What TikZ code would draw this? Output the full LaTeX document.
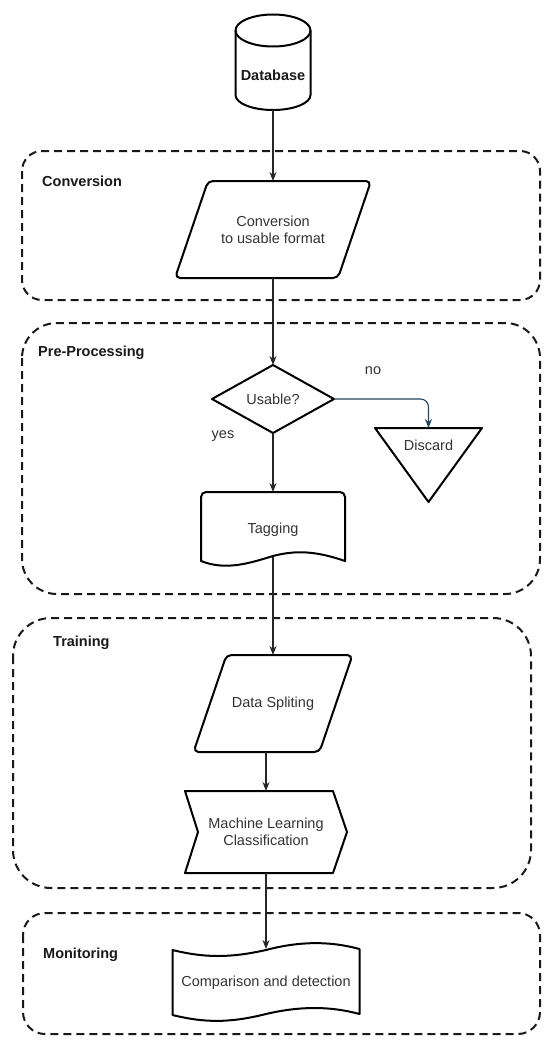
\documentclass[tikz,border=0pt]{standalone}
\usepackage{fontspec}
\setmainfont{Liberation Sans}
\usetikzlibrary{arrows.meta,calc}
\definecolor{txt}{HTML}{333333}
\definecolor{noblue}{HTML}{23445D}
\begin{document}
\begin{tikzpicture}[x=1pt,y=-1pt,
  box/.style={inner sep=0pt, outer sep=0pt, align=center, text=txt, font=\fontsize{14.5}{17}\selectfont},
  shapeline/.style={line width=2pt, draw=black, line join=round},
  group/.style={line width=2pt, draw=black!90, dash pattern=on 8pt off 5pt, rounded corners=#1},
  grouplabel/.style={anchor=west, inner sep=0pt, text=black!90, font=\fontsize{14.5}{17}\selectfont\bfseries},
  conn/.style={line width=1.1pt, draw=black!85, -{Stealth[length=9pt,width=7pt]}}
]
\useasboundingbox (0,0) rectangle (550,1046);

% groups
\draw[group=20] (22,151) rectangle (540,300);
\draw[group=35] (22,323) rectangle (540,594);
\draw[group=38] (13,618) rectangle (531,888);
\draw[group=22] (23,913) rectangle (540,1034);

\node[grouplabel] (lconv) at (42,181) {Conversion};
\node[grouplabel] (lpre) at (38,353) {Pre-Processing};
\node[grouplabel] (ltrain) at (53,643) {Training};
\node[grouplabel] (lmon) at (43,955) {Monitoring};

% database
\node[box, minimum width=75pt, minimum height=96pt] (db) at (273,62) {};
\draw[shapeline] (273,30.5) ellipse [x radius=37.5, y radius=16];
\draw[shapeline] (235.5,30.5) -- (235.5,95) arc[start angle=180, end angle=0, x radius=37.5, y radius=15] -- (310.5,30.5);
\node[box, font=\fontsize{14.5}{17}\selectfont\bfseries, text=black!90] (dbtxt) at ($(db.center)+(0,13)$) {Database};

% conversion
\node[box, minimum width=196pt, minimum height=97pt] (conv) at (273,229.5) {Conversion\\to usable format};
\draw[shapeline, rounded corners=5pt] (208,181) -- (371,181) -- (338,278) -- (175,278) -- cycle;

% usable?
\node[box, minimum width=122pt, minimum height=68pt] (dia) at (273,399) {Usable?};
\draw[shapeline] (dia.north) -- (dia.east) -- (dia.south) -- (dia.west) -- cycle;

% discard
\node[box, minimum width=107pt, minimum height=74pt] (disc) at (428.5,465) {};
\draw[shapeline] (disc.north west) -- (disc.north east) -- (disc.south) -- cycle;
\node[box] (disctxt) at ($(disc.north)+(0,17)$) {Discard};

% tagging
\node[box, minimum width=144pt, minimum height=69pt] (tag) at (273,526.5) {};
\node[box] (tagtxt) at ($(tag.center)+(0,3.5)$) {Tagging};
\draw[shapeline] (201,561) -- (201,497) arc[start angle=180, end angle=270, radius=5] -- (340,492) arc[start angle=270, end angle=360, radius=5] -- (345,561)
  .. controls (316,551) and (296,550) .. (273,556) .. controls (250,563) and (226,571) .. (201,561) -- cycle;

% data spliting
\node[box, minimum width=159pt, minimum height=97pt] (ds) at (273,703.5) {Data Spliting};
\draw[shapeline, rounded corners=5pt] (226.5,655) -- (352.5,655) -- (319.5,752) -- (193.5,752) -- cycle;

% ML
\node[box, minimum width=162pt, minimum height=82pt] (ml) at (266,832) {Machine Learning\\Classification};
\draw[shapeline] (185,791) -- (333,791) -- (347,832) -- (333,873) -- (185,873) -- (198,832) -- cycle;

% tape
\node[box, minimum width=187pt, minimum height=68pt] (tape) at (266,983) {Comparison and detection};
\draw[shapeline] (172.5,950) .. controls (205,958) and (230,958) .. (266,950) .. controls (300,941) and (330,941) .. (359.5,949)
  -- (359.5,1014) .. controls (330,1006) and (300,1006) .. (266,1014) .. controls (230,1023) and (205,1023) .. (172.5,1015) -- cycle;

% labels
\node[box] (lno) at (373,371) {no};
\node[box] (lyes) at (223,436) {yes};

% connectors
\draw[conn] (db.south) -- (conv.north);
\draw[conn] (conv.south) -- (dia.north);
\draw[conn] (dia.south) -- (tag.north);
\draw[conn] ([yshift=4pt]tag.south) -- (ds.north);
\draw[conn] (ml.north |- ds.south) -- (ml.north);
\draw[conn] (ml.south) -- (tape.north);
\draw[conn, draw=noblue, rounded corners=8pt] (dia.east) -- (dia.east -| disc.north) -- (disc.north);
\end{tikzpicture}
\end{document}
